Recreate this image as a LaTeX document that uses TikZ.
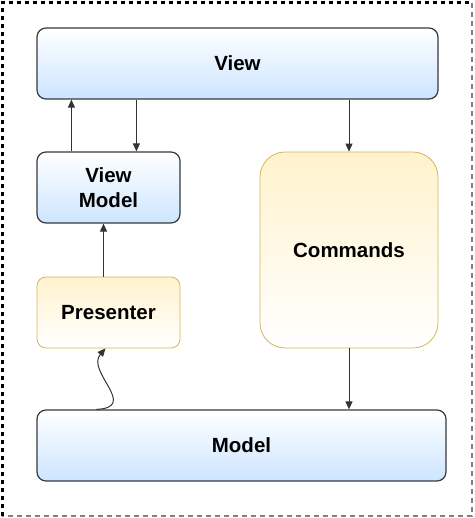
\documentclass[tikz,border=0pt]{standalone}
\usepackage{fontspec}
\setmainfont{Liberation Sans}
\usetikzlibrary{arrows.meta}

\definecolor{blueline}{HTML}{36393D}
\definecolor{bluefill}{HTML}{CCE5FF}
\definecolor{yellowline}{HTML}{D6B656}
\definecolor{yellowfill}{HTML}{FFF2CC}

\tikzset{
  bluebox/.style={draw=blueline,line width=1.2pt,rounded corners=9pt,top color=white,bottom color=bluefill,
    align=center,font=\fontsize{20.5}{25}\selectfont\bfseries,inner sep=0pt},
  yellowbox/.style={draw=yellowline,line width=0.8pt,rounded corners=9pt,top color=yellowfill,bottom color=white,
    align=center,font=\fontsize{20.5}{25}\selectfont\bfseries,inner sep=0pt},
  arr/.style={draw=black!80,line width=1pt,-{Triangle[length=8pt,width=7pt]}}
}

\begin{document}
\begin{tikzpicture}[x=1pt,y=-1pt]
\useasboundingbox (0,0) rectangle (474,518);
\draw[gray,line width=2pt,dash pattern=on 5pt off 4pt] (472,3) -- (472,516) -- (2,516);
\draw[black,line width=3pt,dash pattern=on 4pt off 4pt] (2,516) -- (2,3) -- (472,3);

\node[bluebox,minimum width=401pt,minimum height=71pt] (view) at (237.5,63.5) {View};
\node[bluebox,minimum width=143pt,minimum height=71pt] (viewmodel) at (108.5,187.5) {View\\Model};
\node[yellowbox,minimum width=143pt,minimum height=71pt] (presenter) at (108.5,312.5) {Presenter};
\node[yellowbox,minimum width=178pt,minimum height=196pt,rounded corners=25pt] (commands) at (349,250) {Commands};
\node[bluebox,minimum width=409pt,minimum height=71pt] (model) at (241.5,445.5) {Model};

\draw[arr] ([xshift=35pt]viewmodel.north west) -- ([xshift=35pt]viewmodel.north west |- view.south);
\draw[arr] ([xshift=100pt]view.south west) -- ([xshift=100pt]view.south west |- viewmodel.north);
\draw[arr] (commands.north |- view.south) -- (commands.north);
\draw[arr] ([xshift=-5pt]presenter.north) -- ([xshift=-5pt]presenter.south |- viewmodel.south);
\draw[arr] (commands.south) -- (commands.south |- model.north);
\draw[arr] ([xshift=60pt]model.north west) .. controls +(43,-2) and +(-20,23) .. ([xshift=-3pt]presenter.south);
\end{tikzpicture}
\end{document}
